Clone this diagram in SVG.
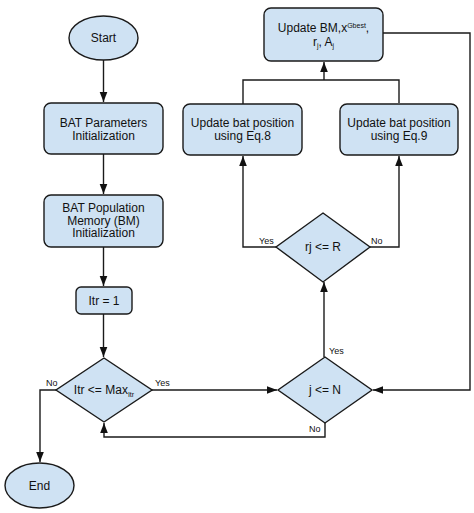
<svg xmlns="http://www.w3.org/2000/svg" width="474" height="513" viewBox="0 0 474 513">
<style>
.n{fill:#cfe2f3;stroke:#1a1a1a;stroke-width:1.4}
.t{font-family:"Liberation Sans",Arial,sans-serif;font-size:12px;fill:#111;text-anchor:middle}
.l{font-family:"Liberation Sans",Arial,sans-serif;font-size:9px;fill:#111}
.c{fill:none;stroke:#1a1a1a;stroke-width:1.4}
</style>
<defs>
<marker id="a" viewBox="0 0 10 10" refX="10" refY="5" markerWidth="10" markerHeight="10" markerUnits="userSpaceOnUse" orient="auto">
<path d="M0,1.2 L10,5 L0,8.8 Z" fill="#111"/>
</marker>
</defs>
<rect width="474" height="513" fill="#fff"/>
<g id="connectors">
<path class="c" d="M103.5,60 V102" marker-end="url(#a)"/>
<path class="c" d="M103.5,154 V194" marker-end="url(#a)"/>
<path class="c" d="M103.5,247 V286" marker-end="url(#a)"/>
<path class="c" d="M103.5,314 V357" marker-end="url(#a)"/>
<path class="c" d="M56,390 H40 V462" marker-end="url(#a)"/>
<path class="c" d="M152,390 H277" marker-end="url(#a)"/>
<path class="c" d="M325,423 V437 H104 V423" marker-end="url(#a)"/>
<path class="c" d="M324,357 V282" marker-end="url(#a)"/>
<path class="c" d="M276,247 H243 V156" marker-end="url(#a)"/>
<path class="c" d="M370,247 H399 V156" marker-end="url(#a)"/>
<path class="c" d="M243,104 V80 H399 V103"/>
<path class="c" d="M324,80 V62" marker-end="url(#a)"/>
<path class="c" d="M383,33 H470 V390 H373" marker-end="url(#a)"/>
<text class="l" x="155" y="386">Yes</text>
<text class="l" x="46" y="386">No</text>
<text class="l" x="329" y="354">Yes</text>
<text class="l" x="309" y="432">No</text>
<text class="l" x="259" y="244">Yes</text>
<text class="l" x="371" y="244">No</text>
</g>
<g id="start">
<ellipse class="n" cx="103.5" cy="38" rx="34.5" ry="22"/>
<text class="t" x="103.5" y="42">Start</text>
</g>
<g id="params">
<rect class="n" x="44" y="103" width="119" height="51" rx="7"/>
<text class="t" x="103.5" y="127">BAT Parameters</text>
<text class="t" x="103.5" y="139.5">Initialization</text>
</g>
<g id="population">
<rect class="n" x="44" y="195" width="119" height="52" rx="7"/>
<text class="t" x="103.5" y="212">BAT Population</text>
<text class="t" x="103.5" y="224.5">Memory (BM)</text>
<text class="t" x="103.5" y="237">Initialization</text>
</g>
<g id="itr1">
<rect class="n" x="76" y="287" width="56" height="27" rx="5"/>
<text class="t" x="104" y="305">Itr = 1</text>
</g>
<g id="itrcheck">
<path class="n" d="M104,358 L152,390 L104,422 L56,390 Z"/>
<text class="t" x="104" y="394">Itr &lt;= Max<tspan font-size="7px" dy="3">Itr</tspan></text>
</g>
<g id="end">
<ellipse class="n" cx="39.5" cy="485.5" rx="34.5" ry="22.5"/>
<text class="t" x="39.5" y="489.5">End</text>
</g>
<g id="jcheck">
<path class="n" d="M325,357 L372,390 L325,423 L278,390 Z"/>
<text class="t" x="325" y="394">j &lt;= N</text>
</g>
<g id="rjcheck">
<path class="n" d="M323,213 L370,247 L323,282 L276,247 Z"/>
<text class="t" x="323" y="251">rj &lt;= R</text>
</g>
<g id="eq8">
<rect class="n" x="183" y="104" width="119" height="51" rx="7"/>
<text class="t" x="242.5" y="127">Update bat position</text>
<text class="t" x="242.5" y="139.5">using Eq.8</text>
</g>
<g id="eq9">
<rect class="n" x="340" y="104" width="118" height="51" rx="7"/>
<text class="t" x="399" y="127">Update bat position</text>
<text class="t" x="399" y="139.5">using Eq.9</text>
</g>
<g id="updatebm">
<rect class="n" x="264" y="8" width="119" height="53" rx="7"/>
<text class="t" x="323.5" y="32">Update BM,x<tspan font-size="7px" dy="-4">Gbest</tspan><tspan dy="4">,</tspan></text>
<text class="t" x="323.5" y="46">r<tspan font-size="7px" dy="2">j</tspan><tspan dy="-2">, A</tspan><tspan font-size="7px" dy="2">j</tspan></text>
</g>
</svg>
